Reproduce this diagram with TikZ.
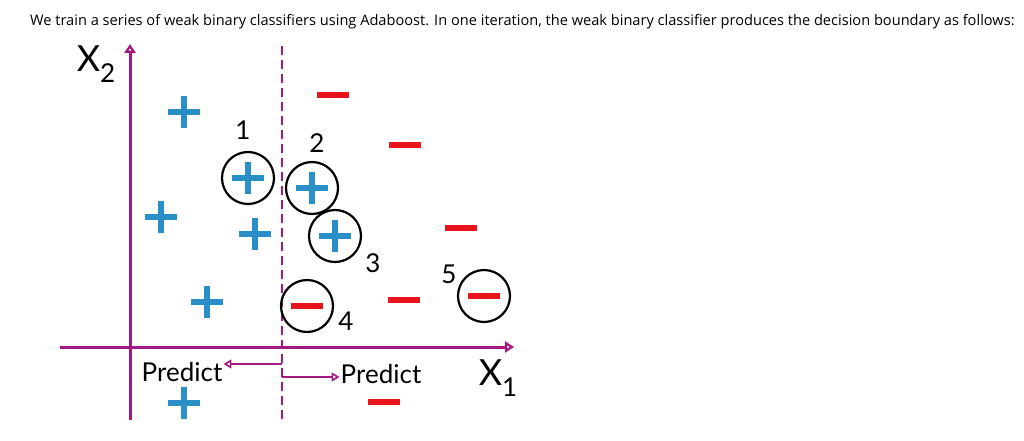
\documentclass[tikz,border=0pt]{standalone}
\usepackage{fontspec}
\setmainfont{Lato}
\newfontfamily\topfont{Open Sans}
\usetikzlibrary{arrows.meta}
\definecolor{ax}{HTML}{A3197F}
\definecolor{pb}{HTML}{2A8FC6}
\definecolor{mr}{HTML}{E8141C}
\begin{document}
\begin{tikzpicture}[x=1pt,y=-1pt,
  axis/.style={draw=ax,line width=3pt,-{Stealth[length=9pt,width=11pt,inset=0pt,open,line width=2.5pt]}},
  plus/.pic={\fill[pb] (-16,-3) rectangle (16,3); \fill[pb] (-3,-16) rectangle (3,16);},
  minus/.pic={\fill[mr] (-16,-2.7) rectangle (16,2.7);},
  ring/.style={circle,draw=black,line width=2.2pt,minimum size=52pt,inner sep=0pt},
  lab/.style={font=\fontsize{26}{26}\selectfont,inner sep=0pt},
  big/.style={font=\fontsize{36}{36}\selectfont,inner sep=0pt},
  pred/.style={font=\fontsize{26}{26}\selectfont,inner sep=0pt}]
\useasboundingbox (0,0) rectangle (1024,441);
\node[anchor=west,font=\topfont\fontsize{14.6}{15}\selectfont,inner sep=0pt] (title) at (30,22) {We train a series of weak binary classifiers using Adaboost. In one iteration, the weak binary classifier produces the decision boundary as follows:};
\coordinate (yb) at (130,420); \coordinate (yt) at (130,44);
\coordinate (xl) at (60,347); \coordinate (xr) at (514,347);
\draw[axis] (yb) -- (yt);
\draw[axis] (xl) -- (xr);
\coordinate (dt) at (282,46); \coordinate (db) at (282,420);
\draw[ax,line width=1.6pt,dash pattern=on 9pt off 5pt] (dt) -- (db);
\node[big] (x2) at (96,64) {X\raisebox{-0.3em}{\fontsize{26}{26}\selectfont 2}};
\node[big] (x1) at (498,378) {X\raisebox{-0.3em}{\fontsize{26}{26}\selectfont 1}};
\pic at (184,112) {plus}; \pic at (161,217) {plus}; \pic at (255,234) {plus};
\pic at (207,302) {plus}; \pic at (184,403) {plus};
\pic at (248,178) {plus}; \pic at (312,188) {plus}; \pic at (335,236) {plus};
\pic at (333,95) {minus}; \pic at (405,145) {minus}; \pic at (461,228) {minus};
\pic at (404,300) {minus}; \pic at (384,402) {minus};
\pic at (307,306) {minus}; \pic at (484,296) {minus};
\node[ring] (c1) at (248,178) {}; \node[ring] (c2) at (312,188) {};
\node[ring] (c3) at (335,236) {}; \node[ring] (c4) at (307,306) {};
\node[ring] (c5) at (484,296) {};
\node[lab] (l1) at (243,130) {1}; \node[lab] (l2) at (317,143) {2};
\node[lab] (l3) at (373,263) {3}; \node[lab] (l4) at (346,321) {4};
\node[lab] (l5) at (449,274) {5};
\node[pred] (pl) at (182,372) {Predict};
\node[pred] (pr) at (381,374) {Predict};
\coordinate (a1) at (282,364); \coordinate (a2) at (282,377);
\draw[ax,line width=1.6pt,-{Stealth[length=8pt,width=9pt,open,inset=0pt]}] (a1) -- ([xshift=1pt]pl.east|-a1);
\draw[ax,line width=1.6pt,-{Stealth[length=8pt,width=9pt,open,inset=0pt]}] (a2) -- ([xshift=-1pt]pr.west|-a2);
\end{tikzpicture}
\end{document}
